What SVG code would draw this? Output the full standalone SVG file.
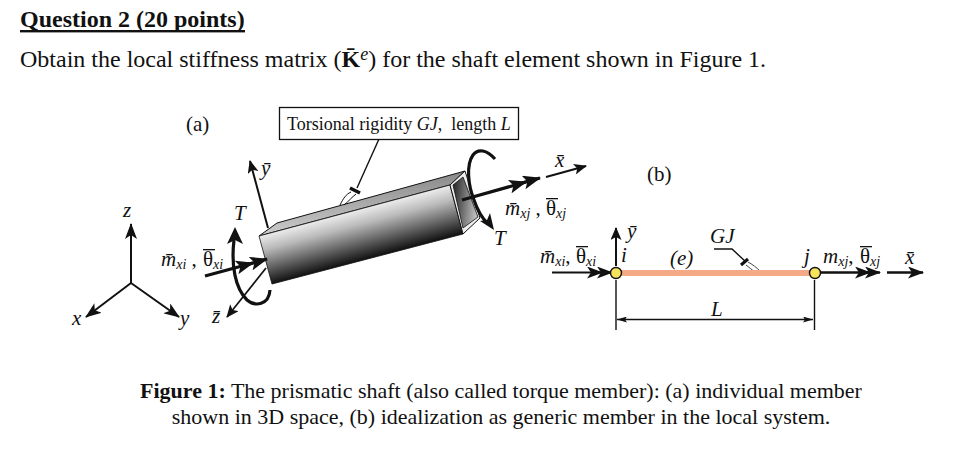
<svg xmlns="http://www.w3.org/2000/svg" width="976" height="459" viewBox="0 0 976 459">
<style>
text{font-family:"Liberation Serif","Times New Roman",serif;fill:#111}
.h{font-size:24px}
.c{font-size:22px}
.l{font-size:21px}
.i{font-style:italic}
.u{font-size:14px;font-style:italic}
.a{fill:none;stroke:#111;stroke-width:2}
.b{fill:none;stroke:#111;stroke-width:3.2}
.t{fill:none;stroke:#111;stroke-width:1.4}
.o{fill:#111}
</style>
<defs>
<marker id="ah" viewBox="0 0 13 11" refX="12" refY="5.500" markerWidth="13" markerHeight="11" markerUnits="userSpaceOnUse" orient="auto"><path d="M0 0L13 5.500L0 11L3 5.500Z" fill="#111"/></marker>
<marker id="bh" viewBox="0 0 16 12" refX="15" refY="6" markerWidth="16" markerHeight="12" markerUnits="userSpaceOnUse" orient="auto"><path d="M0 0L16 6L0 12L4 6Z" fill="#111"/></marker>
<marker id="ch" viewBox="0 0 18 14" refX="17" refY="7" markerWidth="18" markerHeight="14" markerUnits="userSpaceOnUse" orient="auto"><path d="M0 0L18 7L0 14L4 7Z" fill="#111"/></marker>
<marker id="sh" viewBox="0 0 10 6" refX="10" refY="3" markerWidth="10" markerHeight="6" markerUnits="userSpaceOnUse" orient="auto-start-reverse"><path d="M0 0L10 3L0 6L2 3Z" fill="#111"/></marker>
<linearGradient id="front" gradientUnits="userSpaceOnUse" x1="354" y1="210" x2="367" y2="259"><stop offset="0" stop-color="#eee"/><stop offset="0.3" stop-color="#bbb"/><stop offset="0.65" stop-color="#666"/><stop offset="1" stop-color="#111"/></linearGradient>
<linearGradient id="top" x1="0" y1="0" x2="0" y2="1"><stop offset="0" stop-color="#888"/><stop offset="1" stop-color="#ccc"/></linearGradient>
<linearGradient id="hole" x1="0" y1="0" x2="1" y2="0.200"><stop offset="0" stop-color="#222"/><stop offset="1" stop-color="#bbb"/></linearGradient>
</defs>

<g id="heading">
<text x="20" y="27" class="h" font-weight="bold">Question 2 (20 points)</text>
<rect x="20" y="30" width="225" height="2.400" fill="#111"/>
<text x="20" y="67" class="h">Obtain the local stiffness matrix (<tspan font-weight="bold">K̄</tspan><tspan class="i" dy="-7" style="font-size:18px">e</tspan><tspan dy="7">) for the shaft element shown in Figure 1.</tspan></text>
</g>

<g id="beam">
<path d="M259 236L277 223L465 171L450 185Z" fill="url(#top)" stroke="#111" stroke-width="1"/>
<path d="M259 236L450 185L463 234L272 284Z" fill="url(#front)" stroke="#111" stroke-width="0.800"/>
<path d="M450 185L465 171L480 218L463 234Z" fill="#eee" stroke="#111" stroke-width="1"/>
<path d="M453 185L463 177L478 217L463 228Z" fill="url(#hole)" stroke="#111" stroke-width="0.800"/>
</g>

<g id="connectors">
<path class="a" d="M131 283V224" marker-end="url(#bh)"/>
<path class="a" d="M131 283L86 317" marker-end="url(#bh)"/>
<path class="a" d="M131 283L179 317" marker-end="url(#bh)"/>
<path class="a" d="M268 228L250 161" marker-end="url(#ah)"/>
<path class="t" style="stroke-width:1.700" d="M266 268L227 317" marker-end="url(#ah)"/>
<path class="b" d="M205 276L253 263" marker-end="url(#ch)"/>
<path class="b" d="M246 265L267 259" marker-end="url(#ch)"/>
<path class="b" d="M270 290C269 305 255 307 247 300C235 288 231 265 234 240"/>
<path class="o" d="M235 227l-8 17 8 -4 8 4z"/>
<path class="b" d="M462 200L526 182" marker-end="url(#ch)"/>
<path class="b" d="M518 184L540 178" marker-end="url(#ch)"/>
<path class="a" d="M546 177L586 166" marker-end="url(#ah)"/>
<path class="b" d="M495 159C487 150 478 148 473 155C466 165 468 185 474 200C478 212 484 220 488 224"/>
<path class="o" d="M494 230l-14 -9 7 -1 3 -7z"/>
<path class="t" d="M379 139L357 188"/>
<path d="M350 188l10 5" stroke="#111" stroke-width="3.500" fill="none"/>
<path d="M351 192C346 194 343 199 340 205M356 194C352 197 349 201 344 205" class="t" style="stroke-width:1"/>

<path class="a" d="M552 272.500H602" marker-end="url(#bh)"/>
<path class="a" d="M594 272.500H612" marker-end="url(#bh)"/>
<path class="a" d="M616 266V228" marker-end="url(#ah)"/>
<path class="t" d="M616 280V330"/>
<path class="t" d="M814.500 280V330"/>
<path class="t" d="M617 319.500H813" marker-start="url(#sh)" marker-end="url(#sh)"/>
<path class="a" style="stroke-width:2.400" d="M821 272.500H870" marker-end="url(#bh)"/>
<path class="a" style="stroke-width:2.400" d="M864 272.500H880" marker-end="url(#bh)"/>
<path class="a" style="stroke-width:2.400" d="M887 272.500H923" marker-end="url(#bh)"/>
<path class="t" d="M714 249H732L746 262"/>
<path d="M741 265l7 -6" stroke="#111" stroke-width="3" fill="none"/>
<path d="M748 262C752 264 757 268 760 271M746 265C750 268 752 270 754 271" class="t" style="stroke-width:1;stroke:#444"/>
</g>

<g id="label-a"><text x="186" y="131" class="l">(a)</text></g>
<g id="callout">
<rect x="279.500" y="107.500" width="239" height="32" fill="#fff" stroke="#111" stroke-width="1.300"/>
<text x="287" y="130" xml:space="preserve" style="font-size:18px">Torsional rigidity <tspan class="i">GJ</tspan>,  length <tspan class="i">L</tspan></text>
</g>
<g id="axis-labels">
<text x="123" y="217" class="l i">z</text>
<text x="72" y="325" class="l i">x</text>
<text x="180" y="325" class="l i">y</text>
<text x="261" y="175" class="l i">ȳ</text>
<text x="212" y="323" class="l i">z̄</text>
<text x="234" y="220" class="l i">T</text>
<text x="494" y="245" class="l i">T</text>
<text x="555" y="167" class="l i">x̄</text>
<text x="161" y="266" class="l"><tspan class="i">m̄</tspan><tspan class="u" dy="3">xi</tspan><tspan dy="-3"> ,</tspan></text>
<text x="203" y="266" class="l">θ<tspan class="u" dy="3">xi</tspan></text>
<rect x="203" y="249" width="12" height="1.300" fill="#111"/>
<text x="505" y="215" class="l"><tspan class="i">m̄</tspan><tspan class="u" dy="3">xj</tspan><tspan dy="-3"> ,</tspan></text>
<text x="546" y="215" class="l">θ<tspan class="u" dy="3">xj</tspan></text>
<rect x="546" y="198" width="12" height="1.300" fill="#111"/>
</g>

<g id="label-b"><text x="647" y="181" class="l">(b)</text></g>
<g id="member">
<rect x="616" y="270" width="199" height="6" fill="#f4a987"/>
</g>
<g id="node-i"><circle cx="616" cy="273" r="5.500" fill="#f8e45c" stroke="#111" stroke-width="1.400"/></g>
<g id="node-j"><circle cx="815" cy="273" r="5.500" fill="#f8e45c" stroke="#111" stroke-width="1.400"/></g>
<g id="member-labels">
<text x="621" y="262" class="l i">i</text>
<text x="804" y="263" class="l i">j</text>
<text x="670" y="265" class="l i">(e)</text>
<text x="710" y="243" class="l i">GJ</text>
<text x="711" y="316" class="l i">L</text>
<text x="627" y="238" class="l i">ȳ</text>
<text x="905" y="264" class="l i">x̄</text>
<text x="540" y="263" class="l"><tspan class="i">m̄</tspan><tspan class="u" dy="3">xi</tspan><tspan dy="-3">,</tspan></text>
<text x="576" y="263" class="l">θ<tspan class="u" dy="3">xi</tspan></text>
<rect x="576" y="246" width="12" height="1.300" fill="#111"/>
<text x="823" y="263" class="l"><tspan class="i">m</tspan><tspan class="u" dy="3">xj</tspan><tspan dy="-3">,</tspan></text>
<text x="860" y="263" class="l">θ<tspan class="u" dy="3">xj</tspan></text>
<rect x="860" y="246" width="12" height="1.300" fill="#111"/>
</g>
<g id="caption">
<text x="501" y="398" text-anchor="middle" class="c"><tspan font-weight="bold">Figure 1:</tspan> The prismatic shaft (also called torque member): (a) individual member</text>
<text x="501" y="424" text-anchor="middle" class="c">shown in 3D space, (b) idealization as generic member in the local system.</text>
</g>
</svg>
